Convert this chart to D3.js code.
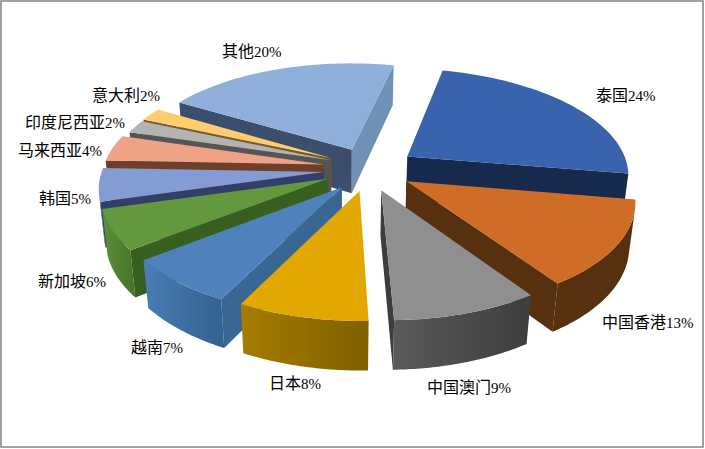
<!DOCTYPE html>
<html>
<head>
<meta charset="utf-8">
<script src="https://d3js.org/d3.v7.min.js"></script>
<style>
    html, body { margin: 0; padding: 0; background: #fff; }
    svg { display: block; }
</style>
</head>
<body>
<svg id="chart" width="705" height="449"></svg>
<script>
const categories = ["泰国", "中国香港", "中国澳门", "日本", "越南", "新加坡", "韩国", "马来西亚", "印度尼西亚", "意大利", "其他"];
const shares = [24, 13, 9, 8, 7, 6, 5, 4, 2, 2, 20];

// how far each slice was pulled out of the pie, sideways and towards the viewer
const explodeU = [63, 60, 35, 14, -3, -17, -21, -21, -15, -14, 7];
const explodeV = [-17, 32, 49, 50, 43, 27, 14, -1, -10, -14, -31];

const topColors = ["#3A63AD", "#CF6D27", "#8F8F8F", "#E3A800", "#4F82BC", "#63993D", "#859BD3", "#EFA285", "#B3B3B3", "#FFCC70", "#8EB0DB"];
const wallLeft = ["#17294D", "#57300F", "#5A5A5A", "#A67C00", "#4A7DB5", "#5B9137", "#2F3C66", "#6F3F2C", "#555555", "#735B2B", "#3B4F6D"];
const wallRight = ["#17294D", "#57300F", "#3D3D3D", "#7F6000", "#33618F", "#467229", "#2F3C66", "#6F3F2C", "#555555", "#735B2B", "#7190B5"];
const cutStart = ["#17294D", "#57300F", "#3D3D3D", "#7F6000", "#3A6694", "#375F1F", "#333F6B", "#6F3F2C", "#555555", "#735B2B", "#3B4F6D"];
const cutEnd = ["#17294D", "#57300F", "#3D3D3D", "#7F6000", "#3A6694", "#375F1F", "#333F6B", "#6F3F2C", "#555555", "#735B2B", "#7190B5"];

// painter's order, back to front
const drawOrder = [10, 9, 8, 7, 6, 5, 4, 3, 0, 1, 2];

const labelX = [596, 602, 427, 269, 131, 38, 39, 18, 25, 92, 222];
const labelY = [95, 322, 387, 383, 347, 281, 198, 150, 122, 95, 51];

const width = 705;
const height = 449;

const centerX = 345;
const centerY = 165;
const radiusU = 220;
const radiusV = 206;
const thickness = 52;
const elevation = Math.PI / 6;
const cameraDist = 1237;
const firstAngle = 13 * Math.PI / 180;

// world (u right, v towards viewer, z up) to screen
function project(u, v, z) {
    const c = Math.cos(elevation);
    const s = Math.sin(elevation);
    const scale = cameraDist / (cameraDist - v * c - z * s);
    return [centerX + u * scale, centerY + (v * s - z * c) * scale];
}

const svg = d3.select("#chart")
    .attr("viewBox", [0, 0, width, height]);

const defs = svg.append("defs");

svg.append("rect")
    .attr("x", 1)
    .attr("y", 1)
    .attr("width", 702)
    .attr("height", 446)
    .attr("fill", "#fff")
    .attr("stroke", "#808080")
    .attr("stroke-width", 1.5);

const pie = d3.pie()
    .sort(null)
    .startAngle(firstAngle)
    .endAngle(firstAngle + 2 * Math.PI);

const arcs = pie(shares);
const line = d3.line();

function drawFace(g, points, color) {
    g.append("path")
        .attr("d", line(points) + "Z")
        .attr("fill", color);
}

drawOrder.forEach((i) => {
    const arc = arcs[i];
    const g = svg.append("g").attr("class", "slice");
    const ou = explodeU[i];
    const ov = explodeV[i];

    const rim = (t, z) => project(ou + radiusU * Math.sin(t), ov - radiusV * Math.cos(t), z);
    const apex = (z) => project(ou, ov, z);
    const angle = d3.scaleLinear().domain([0, 48]).range([arc.startAngle, arc.endAngle]);

    // cut faces, only the ones turned to the camera
    const startFace = [apex(0), rim(arc.startAngle, 0), rim(arc.startAngle, -thickness), apex(-thickness)];
    const endFace = [rim(arc.endAngle, 0), apex(0), apex(-thickness), rim(arc.endAngle, -thickness)];
    if (d3.polygonArea(startFace) > 0) drawFace(g, startFace, cutStart[i]);
    if (d3.polygonArea(endFace) > 0) drawFace(g, endFace, cutEnd[i]);

    // outer wall: the part of the rim that faces the camera, shaded left to right
    const front = d3.range(48)
        .map((k) => [angle(k), angle(k + 1)])
        .filter(([a, b]) => d3.polygonArea([rim(a, 0), rim(b, 0), rim(b, -thickness), rim(a, -thickness)]) > 0);
    if (front.length) {
        const ts = [front[0][0]].concat(front.map((d) => d[1]));
        const wall = ts.map((t) => rim(t, 0)).concat(ts.slice().reverse().map((t) => rim(t, -thickness)));
        const [x0, x1] = d3.extent(wall, (p) => p[0]);
        const grad = defs.append("linearGradient")
            .attr("id", "wall" + i)
            .attr("gradientUnits", "userSpaceOnUse")
            .attr("x1", x0)
            .attr("x2", x1)
            .attr("y1", 0)
            .attr("y2", 0);
        grad.append("stop").attr("offset", 0).attr("stop-color", wallLeft[i]);
        grad.append("stop").attr("offset", 1).attr("stop-color", wallRight[i]);
        drawFace(g, wall, `url(#wall${i})`);
    }

    const topFace = [apex(0)].concat(d3.range(49).map((k) => rim(angle(k), 0)));
    drawFace(g, topFace, topColors[i]);
});

// labels: names and percents use different fonts, like the original
const labels = svg.append("g").attr("class", "labels");

categories.forEach((name, i) => {
    const text = labels.append("text")
        .attr("x", labelX[i])
        .attr("y", labelY[i])
        .attr("dy", "0.36em")
        .attr("fill", "#000");
    text.append("tspan")
        .attr("font-family", "'Noto Sans CJK SC', sans-serif")
        .attr("font-size", 16)
        .text(name);
    text.append("tspan")
        .attr("font-family", "'Liberation Serif', serif")
        .attr("font-size", 15)
        .text(shares[i] + "%");
});
</script>
</body>
</html>
